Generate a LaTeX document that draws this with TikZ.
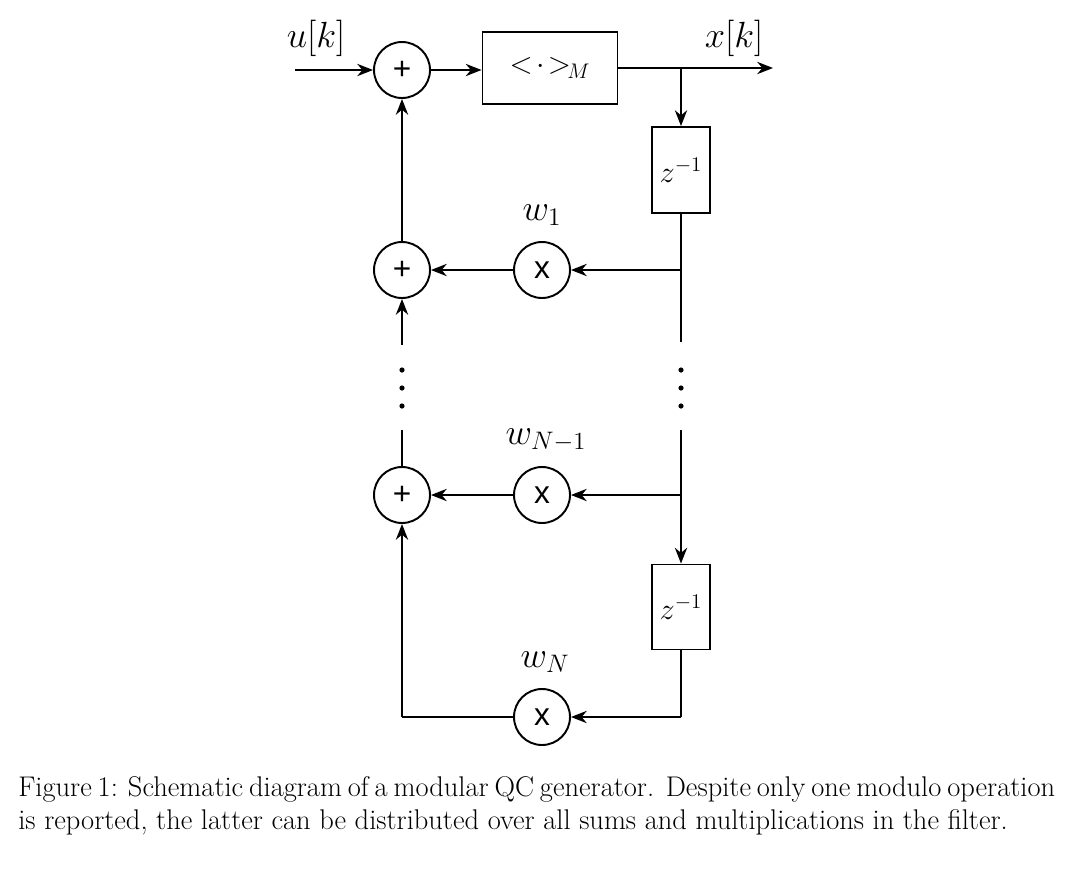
\documentclass[tikz,border=0pt]{standalone}
\usepackage{fontspec}
\newfontfamily\sns{Liberation Sans}
\usetikzlibrary{arrows.meta}
\tikzset{
  sig/.style={line width=1.1pt,-{Stealth[length=9pt,width=7pt]}},
  wire/.style={line width=1.1pt},
  op/.style={circle,draw,line width=1.1pt,minimum size=1.12cm,inner sep=0pt,font=\sns\fontsize{18}{18}\selectfont},
  blk/.style={draw,line width=1.1pt,inner sep=0pt,font=\fontsize{17}{17}\selectfont},
  lbl/.style={font=\fontsize{20}{20}\selectfont}
}
\begin{document}
\begin{tikzpicture}[x=0.02cm,y=-0.02cm]
    \useasboundingbox (0,0) rectangle (1076,880);
    % adders and multipliers
    \node[op] (sum1) at (402,70) {+};
    \node[op] (sum2) at (402,270) {+};
    \node[op] (sum3) at (402,495) {+};
    \node[op] (mul1) at (542,270) {x};
    \node[op] (mul2) at (542,495) {x};
    \node[op] (mul3) at (542,717) {x};
    % blocks
    \node[blk,minimum width=2.7cm,minimum height=1.44cm] (mod) at (550,68) {$<\!\cdot\!>_{\!M}$};
    \node[blk,minimum width=1.16cm,minimum height=1.72cm] (del1) at (681,170) {$z^{\mathrm{-1}}$};
    \node[blk,minimum width=1.16cm,minimum height=1.7cm] (del2) at (681,607) {$z^{\mathrm{-1}}$};
    % helper points
    \coordinate (in) at (295,70);
    \coordinate (out) at (773,68);
    \coordinate (br0) at (681,68);
    \coordinate (br1) at (681,270);
    \coordinate (br2) at (681,495);
    \coordinate (gapR1) at (681,342);
    \coordinate (gapR2) at (681,430);
    \coordinate (gapL1) at (402,345);
    \coordinate (gapL2) at (402,430);
    \coordinate (cR) at (681,717);
    \coordinate (cL) at (402,717);
    % labels
    \node[lbl] (lu) at (316,38) {$u[k]$};
    \node[lbl] (lx) at (734,38) {$x[k]$};
    \node[lbl] (lw1) at (542,215) {$w_1$};
    \node[lbl] (lw2) at (546,440) {$w_{N\mathrm{-1}}$};
    \node[lbl] (lw3) at (545,662) {$w_N$};
    % signal flow
    \draw[sig] (in) -- (sum1);
    \draw[sig] (sum1) -- (sum1 -| mod.west);
    \draw[sig] (mod.east |- out) -- (out);
    \draw[sig] (br0) -- (del1);
    \draw[wire] (del1) -- (gapR1);
    \draw[sig] (gapR2) -- (del2);
    \draw[sig] (br1) -- (mul1);
    \draw[sig] (br2) -- (mul2);
    \draw[sig] (mul1) -- (sum2);
    \draw[sig] (mul2) -- (sum3);
    \draw[sig] (sum2) -- (sum1);
    \draw[sig] (gapL1) -- (sum2);
    \draw[wire] (gapL2) -- (sum3);
    \draw[wire] (del2) -- (cR);
    \draw[sig] (cR) -- (mul3);
    \draw[wire] (mul3) -- (cL);
    \draw[sig] (cL) -- (sum3);
    % dots
    \foreach \x in {402,681}
        \foreach \y in {370,388,406}
            \fill (\x,\y) circle (2.6);
    % caption
    \node[anchor=north west,text width=20.74cm,align=justify,inner sep=0pt,font=\fontsize{16.2}{18.6}\selectfont] (cap) at (18,776)
        {Figure 1: Schematic diagram of a modular QC generator.\ \ Despite only one modulo operation is reported, the latter can be distributed over all sums and multiplications in the filter.};
\end{tikzpicture}
\end{document}
